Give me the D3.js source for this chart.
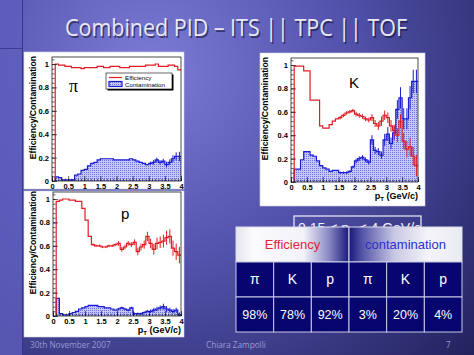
<!DOCTYPE html>
<html>
<head>
<meta charset="utf-8">
<script src="https://cdn.jsdelivr.net/npm/d3@7"></script>
<style>
html, body { margin: 0; padding: 0; background: #2a2a70; }
svg { display: block; }
</style>
</head>
<body>
<svg id="slide" width="474" height="355"></svg>
<script>
// ---- Data ----
// low edges of the 0.1 GeV/c pT bins
const ptLow = [0.1,0.2,0.3,0.4,0.5,0.6,0.7,0.8,0.9,1.0,1.1,1.2,1.3,1.4,1.5,1.6,1.7,1.8,1.9,2.0,
               2.1,2.2,2.3,2.4,2.5,2.6,2.7,2.8,2.9,3.0,3.1,3.2,3.3,3.4,3.5,3.6,3.7,3.8,3.9];
const xTicks = [0, 0.5, 1, 1.5, 2, 2.5, 3, 3.5, 4];
const yTicks = [0, 0.2, 0.4, 0.6, 0.8, 1];

// pions
const piEff = [1.00,0.99,0.99,0.98,0.98,0.97,0.97,0.97,0.96,0.97,0.97,0.97,0.97,0.98,0.98,0.97,0.97,0.98,0.98,0.98,
               0.97,0.97,0.97,0.98,0.98,0.98,0.98,0.98,0.99,0.99,0.99,1.00,0.98,0.98,0.98,0.99,0.99,0.98,0.95];
const piCon = [0.035,0.03,0.01,0.01,0.01,0.01,0.05,0.06,0.09,0.10,0.13,0.15,0.16,0.18,0.19,0.19,0.19,0.19,0.18,0.18,
               0.18,0.18,0.18,0.19,0.18,0.17,0.16,0.15,0.14,0.15,0.16,0.18,0.16,0.17,0.14,0.16,0.19,0.21,0.21];
const piConErr = [0,0,0,0,0,0,0,0,0,0,0,0,0,0,0,0,0,0,0,0,0,0,0,0,0,0,0,0,0,
                  0.015,0.02,0.02,0.02,0.02,0.025,0.025,0.03,0.035,0.04];

// kaons
const kEff = [0.99,0.99,0.99,0.95,0.95,0.70,0.70,0.70,0.48,0.46,0.46,0.49,0.52,0.54,0.55,0.57,0.59,0.60,0.61,0.58,
              0.57,0.56,0.54,0.53,0.55,0.50,0.48,0.52,0.57,0.55,0.48,0.44,0.40,0.52,0.35,0.28,0.30,0.22,0.14];
const kEffErr = [0,0,0,0,0,0,0,0,0,0,0,0,0,0,0.015,0.015,0.015,0.015,0.015,0.02,0.02,0.02,0.02,0.02,
                 0.03,0.03,0.035,0.04,0.04,0.045,0.05,0.05,0.06,0.06,0.07,0.07,0.08,0.08,0.09];
const kCon = [0.11,0.11,0.19,0.26,0.26,0.23,0.22,0.18,0.14,0.12,0.11,0.09,0.10,0.10,0.08,0.08,0.08,0.09,0.13,0.18,
              0.20,0.21,0.19,0.17,0.36,0.27,0.26,0.23,0.36,0.41,0.33,0.42,0.62,0.72,0.54,0.54,0.72,0.86,0.86];
const kConErr = [0,0,0,0,0,0,0,0,0,0,0,0,0,0,0.01,0.01,0.01,0.01,0.01,0.02,0.02,0.02,0.02,0.02,
                 0.04,0.03,0.03,0.03,0.05,0.06,0.05,0.06,0.08,0.09,0.09,0.09,0.10,0.10,0.10];

// protons
const pEff = [0.98,0.99,1.00,1.00,0.99,0.99,0.98,0.98,0.92,0.82,0.68,0.61,0.60,0.60,0.59,0.59,0.60,0.60,0.61,0.62,
              0.57,0.59,0.62,0.61,0.63,0.55,0.59,0.61,0.68,0.62,0.57,0.62,0.63,0.64,0.67,0.68,0.58,0.55,0.52];
const pEffErr = [0,0,0,0,0,0,0,0,0,0,0,0.01,0.01,0.01,0.01,0.01,0.01,0.01,0.01,0.02,0.02,0.02,0.02,0.02,
                 0.025,0.03,0.03,0.035,0.04,0.04,0.045,0.05,0.05,0.055,0.06,0.06,0.065,0.07,0.07];
const pCon = [0.15,0.02,0.01,0.01,0.02,0.03,0.04,0.06,0.07,0.08,0.09,0.09,0.09,0.08,0.08,0.07,0.07,0.06,0.05,0.06,
              0.07,0.06,0.05,0.07,0.02,0.02,0.02,0.03,0.04,0.04,0.05,0.06,0.07,0.08,0.06,0.05,0.04,0.05,0.01];
const pConErr = [0,0,0,0,0,0,0,0,0,0,0,0,0,0,0,0,0,0,0,0.01,0.01,0.01,0.01,0.01,
                 0.01,0.01,0.01,0.01,0.01,0.015,0.02,0.02,0.02,0.025,0.025,0.02,0.02,0.02,0.02];

// summary table
const tableGroups = ["Efficiency", "contamination"];
const tableSpecies = ["π", "K", "p", "π", "K", "p"];
const tableValues = ["98%", "78%", "92%", "3%", "20%", "4%"];

// ---- Slide ----
const W = 474, H = 355;
const svg = d3.select("#slide");
const defs = svg.append("defs");

const bg = defs.append("radialGradient").attr("id", "bg")
  .attr("gradientUnits", "userSpaceOnUse").attr("cx", 150).attr("cy", 70).attr("r", 430);
bg.append("stop").attr("offset", 0).attr("stop-color", "#7c7cd6");
bg.append("stop").attr("offset", 0.45).attr("stop-color", "#5353ad");
bg.append("stop").attr("offset", 1).attr("stop-color", "#22225e");

const effHead = defs.append("linearGradient").attr("id", "effHead");
[[0, "#e4e4ee"], [0.15, "#fbfbfd"], [0.6, "#f2f2f8"], [0.82, "#8a8ac6"], [1, "#18187a"]]
  .forEach(s => effHead.append("stop").attr("offset", s[0]).attr("stop-color", s[1]));
const conHead = defs.append("linearGradient").attr("id", "conHead");
[[0, "#18187a"], [0.12, "#5656a8"], [0.4, "#c8c8e4"], [0.7, "#f4f4f8"], [1, "#eaeaf2"]]
  .forEach(s => conHead.append("stop").attr("offset", s[0]).attr("stop-color", s[1]));

// ROOT-like dotted fill
const pat = defs.append("pattern").attr("id", "dots")
  .attr("patternUnits", "userSpaceOnUse").attr("width", 2).attr("height", 2);
pat.append("rect").attr("width", 2).attr("height", 2).attr("fill", "#c6caf5");
pat.append("rect").attr("width", 1).attr("height", 1).attr("fill", "#6a74da");

svg.append("rect").attr("width", W).attr("height", H).attr("fill", "url(#bg)");
svg.append("rect").attr("width", 22).attr("height", H).attr("fill", "#5e5ebd").attr("opacity", 0.8);
svg.append("line").attr("x1", 22.5).attr("x2", 22.5).attr("y1", 0).attr("y2", H)
  .attr("stroke", "#34348c").attr("stroke-width", 1);
svg.append("line").attr("x1", 0).attr("x2", 22).attr("y1", 48.5).attr("y2", 48.5)
  .attr("stroke", "#3c3c94").attr("stroke-width", 1);

// title
const titleText = "Combined PID – ITS || TPC || TOF";
svg.append("text").attr("x", 66.5).attr("y", 37.5).text(titleText)
  .attr("font-family", "Open Sans, DejaVu Sans, sans-serif").attr("font-size", 24)
  .attr("textLength", 342).attr("lengthAdjust", "spacingAndGlyphs")
  .attr("fill", "#14143c").attr("opacity", 0.6);
svg.append("text").attr("x", 65).attr("y", 36).text(titleText)
  .attr("font-family", "Open Sans, DejaVu Sans, sans-serif").attr("font-size", 24)
  .attr("textLength", 342).attr("lengthAdjust", "spacingAndGlyphs")
  .attr("fill", "#e8e8f4");

// ---- one ROOT-style efficiency/contamination plot ----
let clipId = 0;
function drawPlot(o) {
  svg.append("rect").attr("x", o.panel[0]).attr("y", o.panel[1])
    .attr("width", o.panel[2] - o.panel[0]).attr("height", o.panel[3] - o.panel[1])
    .attr("fill", "#fff").attr("stroke", "#cfcfdc").attr("stroke-width", 0.6);

  const [fx0, fy0, fx1, fy1] = o.frame;
  const x = d3.scaleLinear().domain([0, 4]).range([fx0, fx1]);
  const y = d3.scaleLinear().domain([0, 1.06]).range([fy1, fy0]);
  const g = svg.append("g");

  const cid = "clip" + (clipId++);
  defs.append("clipPath").attr("id", cid).append("rect")
    .attr("x", fx0).attr("y", fy0).attr("width", fx1 - fx0).attr("height", fy1 - fy0);
  const plot = g.append("g").attr("clip-path", `url(#${cid})`);

  const pts = vals => {
    const p = ptLow.map((d, i) => ({ x: d, y: vals[i] }));
    p.unshift({ x: ptLow[0], y: 0 });
    p.push({ x: ptLow[ptLow.length - 1] + 0.1, y: vals[vals.length - 1] });
    return p;
  };
  const area = d3.area().x(d => x(d.x)).y0(y(0)).y1(d => y(d.y)).curve(d3.curveStepAfter);
  const line = d3.line().x(d => x(d.x)).y(d => y(d.y)).curve(d3.curveStepAfter);

  plot.append("path").attr("d", area(pts(o.con))).attr("fill", "url(#dots)");
  plot.append("path").attr("d", line(pts(o.con))).attr("fill", "none")
    .attr("stroke", "#1c1cd0").attr("stroke-width", 1.2);
  plot.append("path").attr("d", line(pts(o.eff))).attr("fill", "none")
    .attr("stroke", "#e21c24").attr("stroke-width", 1.2);

  const errBars = (vals, errs, color) => {
    if (!errs) return;
    plot.append("g").selectAll("line")
      .data(ptLow.map((d, i) => ({ x: d + 0.05, v: vals[i], e: errs[i] })).filter(d => d.e > 0))
      .join("line")
      .attr("x1", d => x(d.x)).attr("x2", d => x(d.x))
      .attr("y1", d => y(d.v - d.e)).attr("y2", d => y(d.v + d.e))
      .attr("stroke", color).attr("stroke-width", 1);
  };
  errBars(o.con, o.conErr, "#1c1cd0");
  errBars(o.eff, o.effErr, "#e21c24");

  // axes, ticks inside the frame as ROOT does
  const axisStyle = sel => sel.attr("font-family", "Liberation Sans, Arial, sans-serif")
    .attr("font-size", 7.5).attr("font-weight", "bold")
    .call(s => s.select(".domain").remove())
    .call(s => s.selectAll("line").attr("stroke", "#000").attr("stroke-width", 0.6));
  g.append("g").attr("transform", `translate(0,${fy1})`)
    .call(d3.axisBottom(x).tickValues(xTicks).tickSize(-5).tickPadding(2.5).tickFormat(d3.format("~g")))
    .call(axisStyle);
  g.append("g").attr("transform", `translate(0,${fy1})`)
    .call(d3.axisBottom(x).tickValues(d3.range(0, 4.001, 0.1)).tickSize(-2.5).tickFormat(""))
    .call(axisStyle);
  g.append("g").attr("transform", `translate(${fx0},0)`)
    .call(d3.axisLeft(y).tickValues(yTicks).tickSize(-5).tickPadding(3).tickFormat(d3.format("~g")))
    .call(axisStyle);
  g.append("g").attr("transform", `translate(${fx0},0)`)
    .call(d3.axisLeft(y).tickValues(d3.range(0, 1.06, 0.04)).tickSize(-2.5).tickFormat(""))
    .call(axisStyle);
  g.append("rect").attr("x", fx0).attr("y", fy0).attr("width", fx1 - fx0).attr("height", fy1 - fy0)
    .attr("fill", "none").attr("stroke", "#000").attr("stroke-width", 0.7);

  g.append("text").attr("transform", `translate(${o.yTitleX},${fy0 - 1}) rotate(-90)`)
    .attr("text-anchor", "end").attr("dy", "0.35em")
    .attr("font-family", "Liberation Sans, Arial, sans-serif").attr("font-size", 8.6)
    .attr("font-weight", "bold").text("Efficiency/Contamination");

  if (o.xTitleY) {
    const t = g.append("text").attr("x", fx1).attr("y", o.xTitleY).attr("text-anchor", "end")
      .attr("font-family", "Liberation Sans, Arial, sans-serif").attr("font-size", 9)
      .attr("font-weight", "bold");
    t.append("tspan").text("p");
    t.append("tspan").attr("font-size", 6).attr("dy", 2).text("T");
    t.append("tspan").attr("dy", -2).text(" (GeV/c)");
  }

  g.append("text").attr("x", o.label[1]).attr("y", o.label[2]).text(o.label[0])
    .attr("font-family", o.labelFont).attr("font-size", o.label[3]).attr("fill", "#000");
  return g;
}

// pions
const gPi = drawPlot({
  panel: [24, 52, 184, 189], frame: [52, 57, 181, 181],
  eff: piEff, con: piCon, conErr: piConErr, yTitleX: 33,
  label: ["π", 69, 92, 18], labelFont: "Liberation Serif, DejaVu Serif, serif"
});
// legend
gPi.append("rect").attr("x", 107.5).attr("y", 74.5).attr("width", 66).attr("height", 16).attr("fill", "#000");
gPi.append("rect").attr("x", 106).attr("y", 73).attr("width", 66).attr("height", 16)
  .attr("fill", "#fff").attr("stroke", "#000").attr("stroke-width", 0.6);
gPi.append("line").attr("x1", 109).attr("x2", 122).attr("y1", 77.5).attr("y2", 77.5)
  .attr("stroke", "#e21c24").attr("stroke-width", 1.2);
gPi.append("rect").attr("x", 109).attr("y", 81.5).attr("width", 13).attr("height", 5)
  .attr("fill", "url(#dots)").attr("stroke", "#1c1cd0").attr("stroke-width", 1.2);
gPi.append("text").attr("x", 125).attr("y", 79.8).text("Efficiency")
  .attr("font-family", "Liberation Sans, Arial, sans-serif").attr("font-size", 6.2);
gPi.append("text").attr("x", 125).attr("y", 87.3).text("Contamination")
  .attr("font-family", "Liberation Sans, Arial, sans-serif").attr("font-size", 6.2);

// protons
drawPlot({
  panel: [24, 191, 184, 337], frame: [53, 192, 181, 316],
  eff: pEff, con: pCon, effErr: pEffErr, conErr: pConErr, yTitleX: 33, xTitleY: 333,
  label: ["p", 121, 219, 15], labelFont: "Liberation Sans, Arial, sans-serif"
});

// kaons
drawPlot({
  panel: [260, 53, 425, 206], frame: [291, 58, 418, 182],
  eff: kEff, con: kCon, effErr: kEffErr, conErr: kConErr, yTitleX: 265, xTitleY: 199,
  label: ["K", 349, 88, 15], labelFont: "Liberation Sans, Arial, sans-serif"
});

// pT range box (partly hidden by the table)
svg.append("rect").attr("x", 294).attr("y", 216).attr("width", 127).attr("height", 22)
  .attr("fill", "none").attr("stroke", "#f0f0f8").attr("stroke-width", 1.2);
const rng = svg.append("text").attr("x", 298).attr("y", 233)
  .attr("font-family", "Liberation Sans, Arial, sans-serif").attr("font-size", 14).attr("fill", "#f0f0f8");
rng.append("tspan").text("0.15 < p");
rng.append("tspan").attr("font-size", 9).attr("dy", 3).text("T");
rng.append("tspan").attr("dy", -3).text(" < 4 GeV/c");

// summary table
const tx = d3.scaleBand().domain(d3.range(6)).range([236, 462]);
const rowY = [227, 262, 297, 332];
const table = svg.append("g").attr("font-family", "Liberation Sans, Arial, sans-serif");
table.selectAll("rect.head").data(tableGroups).join("rect").attr("class", "head")
  .attr("x", (d, i) => tx(i * 3)).attr("y", rowY[0])
  .attr("width", tx.bandwidth() * 3).attr("height", rowY[1] - rowY[0])
  .attr("fill", (d, i) => i === 0 ? "url(#effHead)" : "url(#conHead)")
  .attr("stroke", "#dcdcec").attr("stroke-width", 1);
table.selectAll("text.head").data(tableGroups).join("text").attr("class", "head")
  .attr("x", (d, i) => tx(i * 3) + tx.bandwidth() * 1.5).attr("y", (rowY[0] + rowY[1]) / 2)
  .attr("dy", "0.35em").attr("text-anchor", "middle").attr("font-size", 13)
  .attr("fill", (d, i) => i === 0 ? "#e0243a" : "#2e2ecc").text(d => d);
[tableSpecies, tableValues].forEach((row, r) => {
  table.append("g").selectAll("rect").data(row).join("rect")
    .attr("x", (d, i) => tx(i)).attr("y", rowY[r + 1])
    .attr("width", tx.bandwidth()).attr("height", rowY[r + 2] - rowY[r + 1])
    .attr("fill", "#06066e").attr("stroke", "#c8c8e6").attr("stroke-width", 1);
  table.append("g").selectAll("text").data(row).join("text")
    .attr("x", (d, i) => tx(i) + tx.bandwidth() / 2).attr("y", (rowY[r + 1] + rowY[r + 2]) / 2)
    .attr("dy", "0.35em").attr("text-anchor", "middle")
    .attr("font-size", r === 0 ? 14 : 12.5).attr("fill", "#fff").text(d => d);
});

// footer
const foot = svg.append("g").attr("font-family", "Open Sans, DejaVu Sans, sans-serif")
  .attr("font-size", 8.2).attr("fill", "#9a9ad0");
foot.append("text").attr("x", 30).attr("y", 348).text("30th November 2007");
foot.append("text").attr("x", 206).attr("y", 348).text("Chiara Zampolli");
foot.append("text").attr("x", 446).attr("y", 348).text("7");
</script>
</body>
</html>
